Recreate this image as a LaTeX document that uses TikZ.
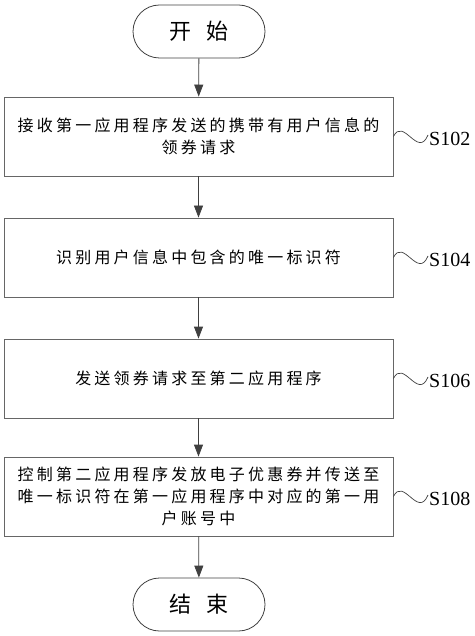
\documentclass[tikz,border=0pt]{standalone}
\usepackage{fontspec}
\setmainfont{Liberation Serif}
\newfontfamily\cjk{Noto Sans CJK SC}
\newfontfamily\cjkbox{Noto Sans CJK SC}[LetterSpace=20]
\usetikzlibrary{arrows.meta, positioning}

\begin{document}
\begin{tikzpicture}[x=1pt,y=-1pt,
  termbox/.style={draw=black!75, line width=0.8pt, minimum width=132pt, minimum height=53pt,
    rounded corners=26.5pt, font=\fontsize{22}{26}\cjk},
  stepbox/.style={draw=black!60, line width=0.8pt, minimum width=389pt, minimum height=79pt,
    align=center, inner sep=2pt, font=\fontsize{16}{22}\cjkbox},
  steplabel/.style={anchor=west, inner sep=1pt, font=\fontsize{20}{24}\selectfont},
  arr/.style={draw=black!75, line width=0.8pt, -{Triangle[length=12pt,width=9pt]}},
  wave/.style={draw=black!75, line width=0.7pt}]
\useasboundingbox (0,0) rectangle (474,636);
% Inicio y fin
\node[termbox] (start) at (199,31.5) {开\hspace{15pt}始};
\node[termbox] (stop) at (199,604.5) {结\hspace{15pt}束};
% Pasos
\node[stepbox] (s102) at (198.5,136.5) {接收第一应用程序发送的携带有用户信息的\\领券请求};
\node[stepbox] (s104) at (198.5,257.5) {识别用户信息中包含的唯一标识符};
\node[stepbox] (s106) at (198.5,378.5) {发送领券请求至第二应用程序};
\node[stepbox] (s108) at (198.5,496.5) {控制第二应用程序发放电子优惠券并传送至\\唯一标识符在第一应用程序中对应的第一用\\户账号中};
% Etiquetas
\node[steplabel] (l102) at (428,139) {S102};
\node[steplabel] (l104) at (428,260) {S104};
\node[steplabel] (l106) at (428,381) {S106};
\node[steplabel] (l108) at (428,499) {S108};
\foreach \s in {102,104,106,108} {
  \draw[wave] (s\s.east) .. controls +(10,-20) and +(-10,24) .. ([yshift=4pt]l\s.west);
}
% Flechas
\draw[arr] (start) -- (s102);
\draw[arr] (s102) -- (s104);
\draw[arr] (s104) -- (s106);
\draw[arr] (s106) -- (s108);
\draw[arr] (s108) -- (stop);
\end{tikzpicture}
\end{document}
